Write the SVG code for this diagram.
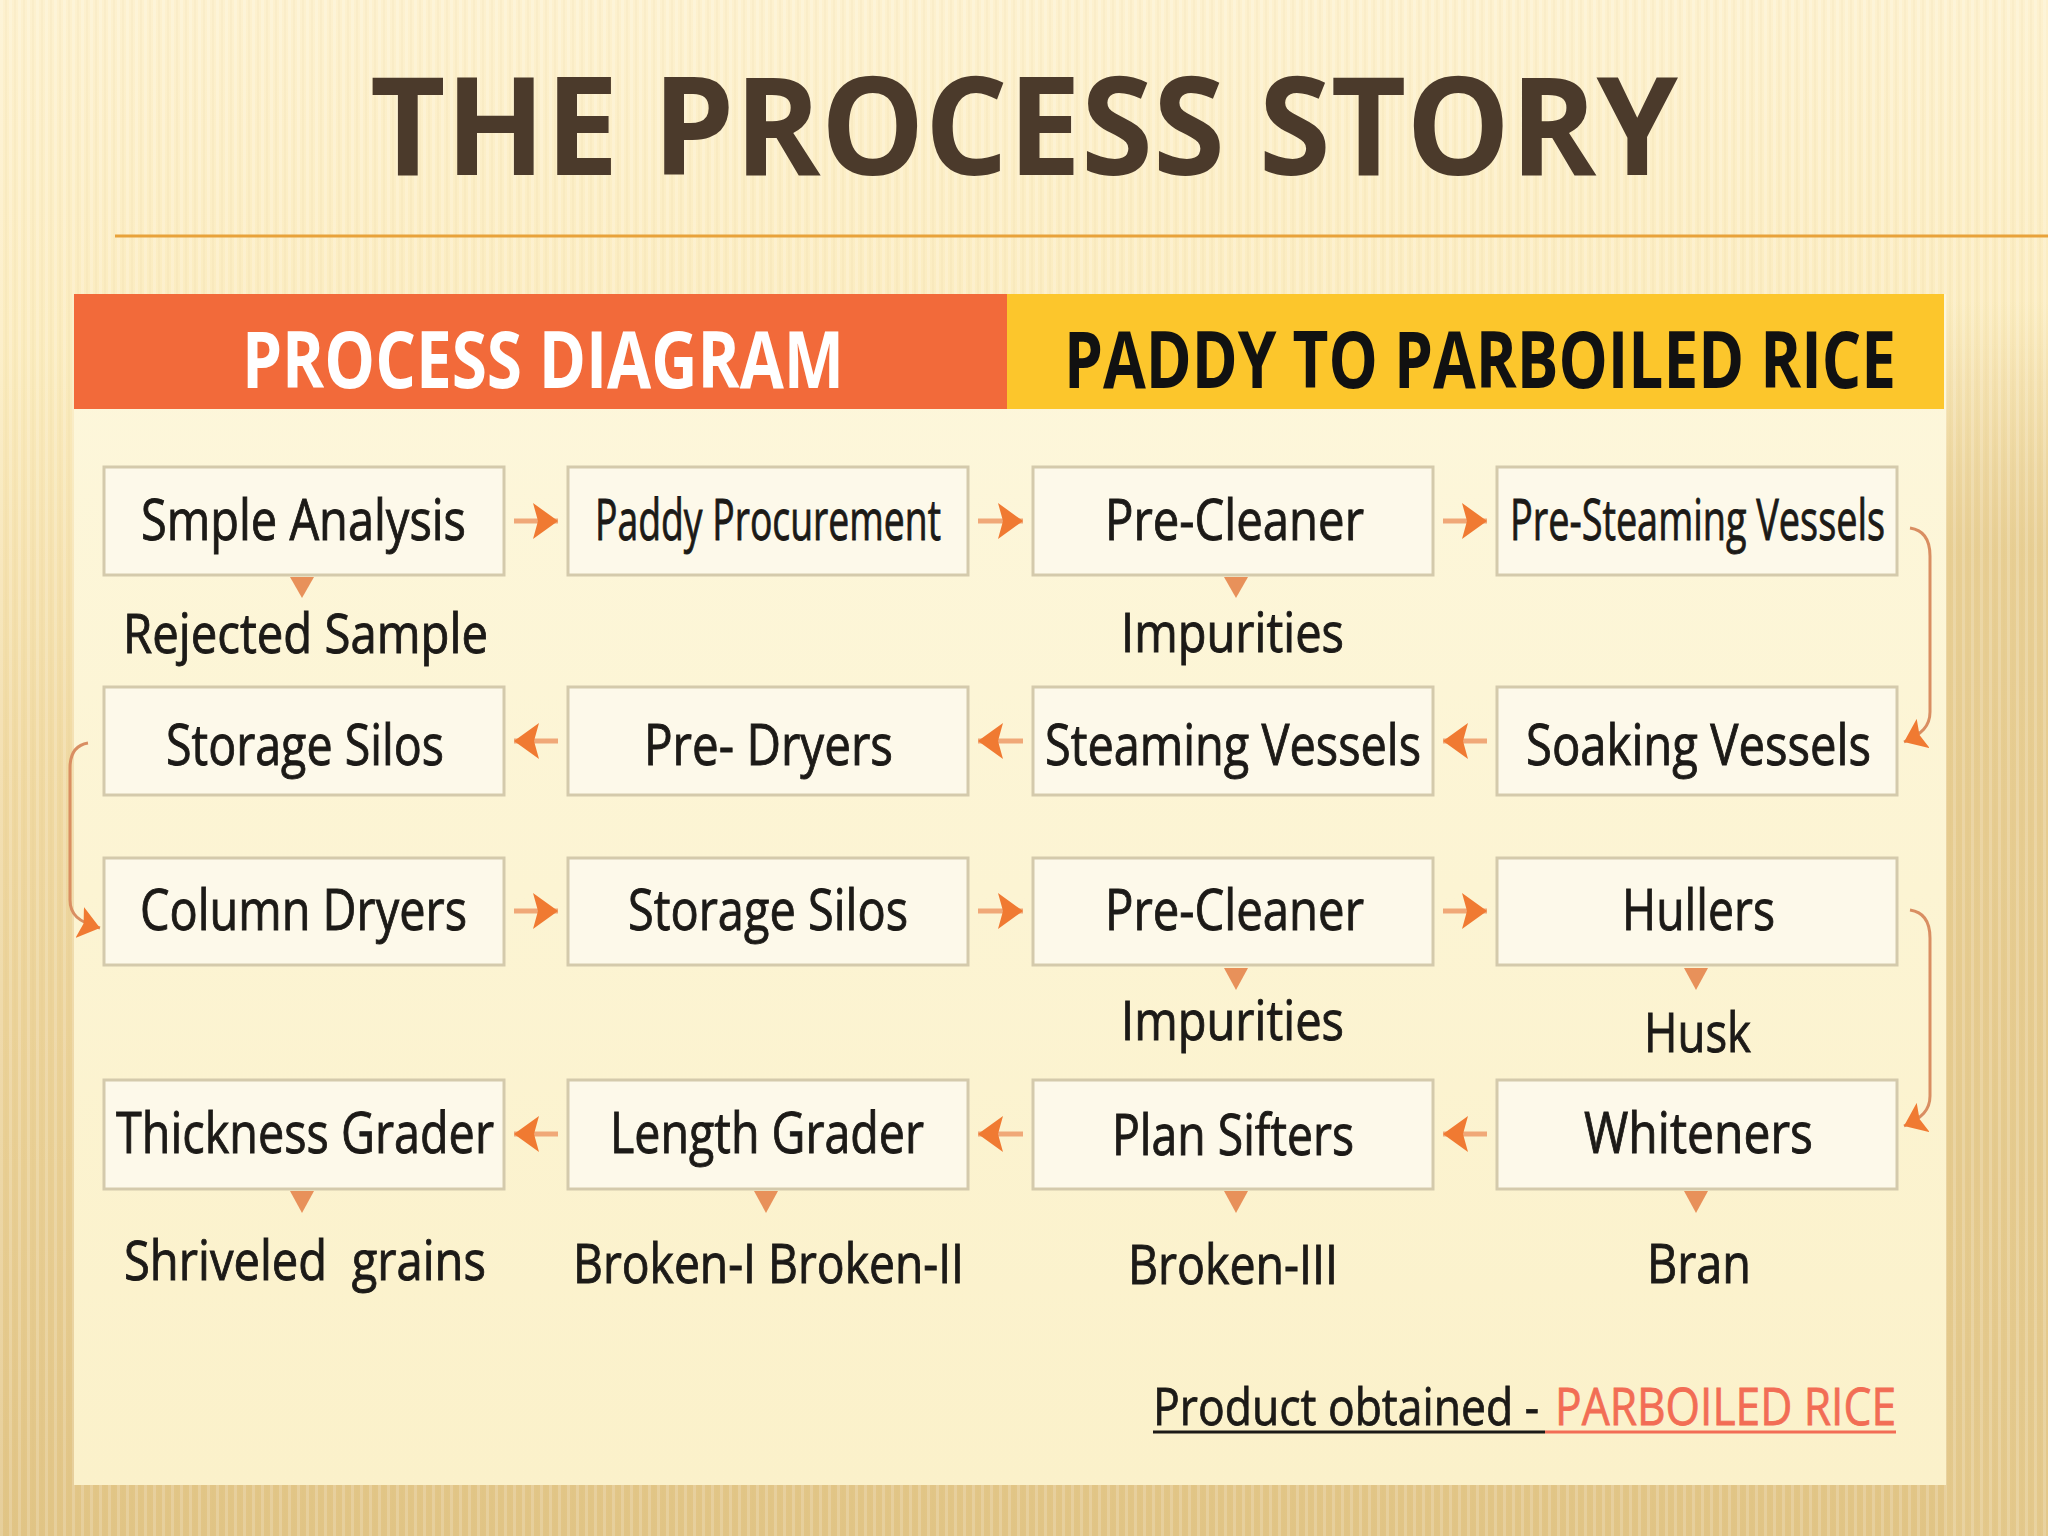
<svg xmlns="http://www.w3.org/2000/svg" width="2048" height="1536" viewBox="0 0 2048 1536">
<defs>
<linearGradient id="bg" x1="0" y1="0" x2="0" y2="1">
<stop offset="0" stop-color="#fdf1cf"/>
<stop offset="0.22" stop-color="#fbecbf"/>
<stop offset="0.5" stop-color="#f0d9a2"/>
<stop offset="1" stop-color="#e1c485"/>
</linearGradient>
<linearGradient id="side" x1="0" y1="0" x2="0" y2="1">
<stop offset="0" stop-color="#e4c98c" stop-opacity="0"/>
<stop offset="0.2" stop-color="#e4c98c" stop-opacity="0.8"/>
<stop offset="1" stop-color="#e4c98c" stop-opacity="0.8"/>
</linearGradient>
<linearGradient id="panel" x1="0" y1="0" x2="0" y2="1">
<stop offset="0" stop-color="#fdf7dc"/>
<stop offset="1" stop-color="#fbf1ca"/>
</linearGradient>
<pattern id="stripes" width="9" height="40" patternUnits="userSpaceOnUse">
<rect x="0" y="0" width="3" height="40" fill="#ffffff" opacity="0.18"/>
<rect x="5" y="0" width="2" height="40" fill="#d9bf80" opacity="0.08"/>
</pattern>
<marker id="ah" markerUnits="userSpaceOnUse" markerWidth="26" markerHeight="36" refX="25" refY="18" orient="auto">
<path d="M0,0 L25,18 L0,36 L5,18 z" fill="#f07a32"/>
</marker>
<marker id="ahc" markerUnits="userSpaceOnUse" markerWidth="24" markerHeight="32" refX="21" refY="16" orient="auto">
<path d="M0,0 L21,16 L0,32 L4,16 z" fill="#f07a32"/>
</marker>
<style>
.box { fill: #fdf9ea; stroke: #d4caac; stroke-width: 3; }
.t { font-family: "Open Sans", "Liberation Sans", sans-serif; font-size: 56px; fill: #1c1a17; stroke: #1c1a17; stroke-width: 0.9px; }
.lbl { font-family: "Open Sans", "Liberation Sans", sans-serif; font-size: 54px; fill: #1c1a17; stroke: #1c1a17; stroke-width: 0.9px; }
.hd { font-family: "Open Sans", "Liberation Sans", sans-serif; font-size: 78px; font-weight: bold; }
.shaft { stroke: #f0a878; stroke-width: 5; fill: none; }
.curve { stroke: #d98e62; stroke-width: 3; fill: none; }
.tri { fill: #e8915a; }
</style>
</defs>

<!-- background -->
<rect x="0" y="0" width="2048" height="1536" fill="url(#bg)"/>
<rect x="1946" y="300" width="102" height="1236" fill="url(#side)"/>
<rect x="0" y="0" width="2048" height="1536" fill="url(#stripes)"/>

<!-- title -->
<text x="370" y="175" font-family="'Open Sans', 'Liberation Sans', sans-serif" font-size="137" font-weight="bold" fill="#4b3a2b" textLength="1308" lengthAdjust="spacingAndGlyphs">THE PROCESS STORY</text>
<line x1="115" y1="236" x2="2048" y2="236" stroke="#e8a23a" stroke-width="3"/>

<!-- panel -->
<rect x="74" y="294" width="1872" height="1191" fill="url(#panel)"/>
<rect x="74" y="294" width="933" height="115" fill="#f26a3a"/>
<rect x="1007" y="294" width="937" height="115" fill="#fcc62c"/>
<text class="hd" x="242" y="388" fill="#ffffff" textLength="602" lengthAdjust="spacingAndGlyphs">PROCESS DIAGRAM</text>
<text class="hd" x="1064" y="388" fill="#111111" textLength="832" lengthAdjust="spacingAndGlyphs">PADDY TO PARBOILED RICE</text>

<!-- connectors -->
<g id="connectors">
<path class="shaft" d="M514,521 L558,521" marker-end="url(#ah)"/>
<path class="shaft" d="M978,521 L1023,521" marker-end="url(#ah)"/>
<path class="shaft" d="M1443,521 L1487,521" marker-end="url(#ah)"/>
<path class="shaft" d="M558,741 L514,741" marker-end="url(#ah)"/>
<path class="shaft" d="M1023,741 L978,741" marker-end="url(#ah)"/>
<path class="shaft" d="M1487,741 L1443,741" marker-end="url(#ah)"/>
<path class="shaft" d="M514,911 L558,911" marker-end="url(#ah)"/>
<path class="shaft" d="M978,911 L1023,911" marker-end="url(#ah)"/>
<path class="shaft" d="M1443,911 L1487,911" marker-end="url(#ah)"/>
<path class="shaft" d="M558,1134 L514,1134" marker-end="url(#ah)"/>
<path class="shaft" d="M1023,1134 L978,1134" marker-end="url(#ah)"/>
<path class="shaft" d="M1487,1134 L1443,1134" marker-end="url(#ah)"/>
<path class="curve" d="M1910,528 C1924,530 1930,540 1930,556 L1930,712 C1930,726 1922,734 1904,742" marker-end="url(#ahc)"/>
<path class="curve" d="M1910,910 C1924,912 1930,922 1930,938 L1930,1096 C1930,1110 1922,1118 1904,1126" marker-end="url(#ahc)"/>
<path class="curve" d="M88,743 C76,745 70,754 70,768 L70,900 C70,914 78,922 100,928" marker-end="url(#ahc)"/>
<path class="tri" d="M290,577 L314,577 L302,598 z"/>
<path class="tri" d="M1224,577 L1248,577 L1236,598 z"/>
<path class="tri" d="M1224,968 L1248,968 L1236,990 z"/>
<path class="tri" d="M1684,968 L1708,968 L1696,990 z"/>
<path class="tri" d="M290,1191 L314,1191 L302,1213 z"/>
<path class="tri" d="M754,1191 L778,1191 L766,1213 z"/>
<path class="tri" d="M1224,1191 L1248,1191 L1236,1213 z"/>
<path class="tri" d="M1684,1191 L1708,1191 L1696,1213 z"/>
</g>

<!-- row 1 -->
<g id="n-sample-analysis"><rect class="box" x="104" y="467" width="400" height="108"/><text class="t" x="141" y="540" textLength="325" lengthAdjust="spacingAndGlyphs">Smple Analysis</text></g>
<g id="n-paddy-procurement"><rect class="box" x="568" y="467" width="400" height="108"/><text class="t" x="595" y="540" textLength="346" lengthAdjust="spacingAndGlyphs">Paddy Procurement</text></g>
<g id="n-pre-cleaner-1"><rect class="box" x="1033" y="467" width="400" height="108"/><text class="t" x="1105" y="540" textLength="259" lengthAdjust="spacingAndGlyphs">Pre-Cleaner</text></g>
<g id="n-pre-steaming"><rect class="box" x="1497" y="467" width="400" height="108"/><text class="t" x="1510" y="540" textLength="375" lengthAdjust="spacingAndGlyphs">Pre-Steaming Vessels</text></g>
<g id="n-rejected"><text class="lbl" x="123" y="653" textLength="365" lengthAdjust="spacingAndGlyphs">Rejected Sample</text></g>
<g id="n-impurities-1"><text class="lbl" x="1121" y="652" textLength="223" lengthAdjust="spacingAndGlyphs">Impurities</text></g>

<!-- row 2 -->
<g id="n-storage-silos-1"><rect class="box" x="104" y="687" width="400" height="108"/><text class="t" x="166" y="765" textLength="278" lengthAdjust="spacingAndGlyphs">Storage Silos</text></g>
<g id="n-pre-dryers"><rect class="box" x="568" y="687" width="400" height="108"/><text class="t" x="644" y="765" textLength="249" lengthAdjust="spacingAndGlyphs">Pre- Dryers</text></g>
<g id="n-steaming"><rect class="box" x="1033" y="687" width="400" height="108"/><text class="t" x="1045" y="765" textLength="376" lengthAdjust="spacingAndGlyphs">Steaming Vessels</text></g>
<g id="n-soaking"><rect class="box" x="1497" y="687" width="400" height="108"/><text class="t" x="1526" y="765" textLength="345" lengthAdjust="spacingAndGlyphs">Soaking Vessels</text></g>

<!-- row 3 -->
<g id="n-column-dryers"><rect class="box" x="104" y="858" width="400" height="107"/><text class="t" x="140" y="930" textLength="327" lengthAdjust="spacingAndGlyphs">Column Dryers</text></g>
<g id="n-storage-silos-2"><rect class="box" x="568" y="858" width="400" height="107"/><text class="t" x="628" y="930" textLength="280" lengthAdjust="spacingAndGlyphs">Storage Silos</text></g>
<g id="n-pre-cleaner-2"><rect class="box" x="1033" y="858" width="400" height="107"/><text class="t" x="1105" y="930" textLength="259" lengthAdjust="spacingAndGlyphs">Pre-Cleaner</text></g>
<g id="n-hullers"><rect class="box" x="1497" y="858" width="400" height="107"/><text class="t" x="1622" y="930" textLength="153" lengthAdjust="spacingAndGlyphs">Hullers</text></g>
<g id="n-impurities-2"><text class="lbl" x="1121" y="1040" textLength="223" lengthAdjust="spacingAndGlyphs">Impurities</text></g>
<g id="n-husk"><text class="lbl" x="1644" y="1052" textLength="107" lengthAdjust="spacingAndGlyphs">Husk</text></g>

<!-- row 4 -->
<g id="n-thickness"><rect class="box" x="104" y="1080" width="400" height="109"/><text class="t" x="116" y="1153" textLength="378" lengthAdjust="spacingAndGlyphs">Thickness Grader</text></g>
<g id="n-length"><rect class="box" x="568" y="1080" width="400" height="109"/><text class="t" x="610" y="1153" textLength="314" lengthAdjust="spacingAndGlyphs">Length Grader</text></g>
<g id="n-plan-sifters"><rect class="box" x="1033" y="1080" width="400" height="109"/><text class="t" x="1112" y="1155" textLength="242" lengthAdjust="spacingAndGlyphs">Plan Sifters</text></g>
<g id="n-whiteners"><rect class="box" x="1497" y="1080" width="400" height="109"/><text class="t" x="1584" y="1153" textLength="229" lengthAdjust="spacingAndGlyphs">Whiteners</text></g>
<g id="n-shriveled"><text class="lbl" x="124" y="1280" textLength="362" lengthAdjust="spacingAndGlyphs" xml:space="preserve">Shriveled  grains</text></g>
<g id="n-broken-1-2"><text class="lbl" x="573" y="1283" textLength="391" lengthAdjust="spacingAndGlyphs">Broken-I Broken-II</text></g>
<g id="n-broken-3"><text class="lbl" x="1128" y="1284" textLength="210" lengthAdjust="spacingAndGlyphs">Broken-III</text></g>
<g id="n-bran"><text class="lbl" x="1647" y="1283" textLength="104" lengthAdjust="spacingAndGlyphs">Bran</text></g>

<!-- product -->
<g id="n-product">
<text font-family="'Open Sans', 'Liberation Sans', sans-serif" font-size="52" fill="#1c1a17" stroke="#1c1a17" stroke-width="0.8" x="1153" y="1425" textLength="386" lengthAdjust="spacingAndGlyphs">Product obtained -</text>
<text font-family="'Open Sans', 'Liberation Sans', sans-serif" font-size="52" fill="#f26d55" stroke="#f26d55" stroke-width="0.8" x="1555" y="1425" textLength="341" lengthAdjust="spacingAndGlyphs">PARBOILED RICE</text>
<line x1="1153" y1="1432" x2="1545" y2="1432" stroke="#1c1a17" stroke-width="3"/>
<line x1="1545" y1="1432" x2="1896" y2="1432" stroke="#f26d55" stroke-width="3"/>
</g>
</svg>
